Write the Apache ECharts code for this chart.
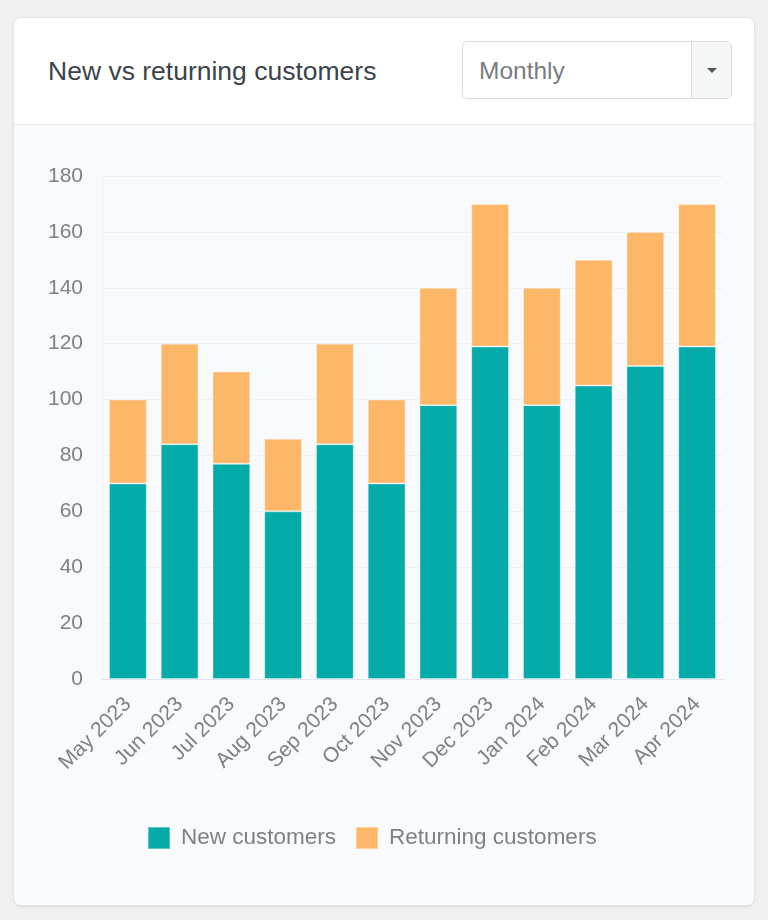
<!DOCTYPE html>
<html>
<head>
<meta charset="utf-8">
<script src="https://cdn.jsdelivr.net/npm/echarts@6/dist/echarts.min.js"></script>
<style>
  html, body { margin: 0; padding: 0; background: #f0f0f1; width: 768px; height: 920px; overflow: hidden; font-family: "Liberation Sans", Arial, Helvetica, sans-serif; }
  #card { position: absolute; left: 13px; top: 17px; width: 740px; height: 887px; background: #f9fafc; border: 1px solid #e2e4e7; border-radius: 8px; box-shadow: 0 1px 2px rgba(0,0,0,0.08); overflow: hidden; }
  #header { position: absolute; left: 0; top: 0; width: 740px; height: 106px; background: #ffffff; border-bottom: 1px solid #e3e5e8; }
  #title { position: absolute; left: 34px; top: 38px; font-size: 26.5px; color: #3c434a; line-height: 30px; white-space: nowrap; }
  #select { position: absolute; left: 448px; top: 23px; width: 268px; height: 56px; border: 1px solid #dcdcde; border-radius: 5px; background: #fff; overflow: hidden; }
  #selText { position: absolute; left: 16px; top: 14px; font-size: 24.5px; line-height: 30px; color: #787c82; }
  #selBtn { position: absolute; right: 0; top: 0; width: 39px; height: 56px; background: #f6f7f7; border-left: 1px solid #dcdcde; }
  #arrow { position: absolute; left: 15px; top: 26px; width: 0; height: 0; border-left: 5px solid transparent; border-right: 5px solid transparent; border-top: 5px solid #50575e; }
  #chart { position: absolute; left: 0; top: 107px; width: 740px; height: 780px; }
</style>
</head>
<body>
<div id="card">
  <div id="header">
    <div id="title">New vs returning customers</div>
    <div id="select"><div id="selText">Monthly</div><div id="selBtn"><div id="arrow"></div></div></div>
  </div>
  <div id="chart"></div>
</div>
<script>
const categories = ["May 2023","Jun 2023","Jul 2023","Aug 2023","Sep 2023","Oct 2023","Nov 2023","Dec 2023","Jan 2024","Feb 2024","Mar 2024","Apr 2024"];
const newCustomers = [70, 84, 77, 60, 84, 70, 98, 119, 98, 105, 112, 119];
const returningCustomers = [30, 36, 33, 26, 36, 30, 42, 51, 42, 45, 48, 51];
const seriesNames = ["New customers", "Returning customers"];
const colors = ["#05aba8", "#fdb768"];

const chart = echarts.init(document.getElementById('chart'), null, { renderer: 'canvas' });
const labelColor = '#7d8089';
const fontFamily = '"Liberation Sans", Arial, Helvetica, sans-serif';
chart.setOption({
  animation: false,
  textStyle: { fontFamily: fontFamily },
  grid: { left: 88, right: 31, top: 51, bottom: 226, containLabel: false },
  legend: {
    data: seriesNames,
    left: 128, top: 696,
    itemWidth: 22, itemHeight: 22, itemGap: 19,
    icon: 'rect',
    textStyle: { color: labelColor, fontSize: 22.5, fontFamily: fontFamily, padding: [0, 0, 0, 6] }
  },
  xAxis: {
    type: 'category',
    data: categories,
    axisLine: { show: true, lineStyle: { color: '#dfe4ec', width: 1 } },
    axisTick: { show: false },
    axisLabel: { rotate: 45, color: labelColor, fontSize: 21, margin: 22, interval: 0 },
    splitLine: { show: false }
  },
  yAxis: {
    type: 'value',
    min: 0, max: 180, interval: 20,
    axisLine: { show: true, lineStyle: { color: '#eef0f4' } },
    axisTick: { show: false },
    axisLabel: { color: labelColor, fontSize: 21, margin: 19 },
    splitLine: { lineStyle: { color: '#eef0f4', width: 1 } }
  },
  series: [
    { name: seriesNames[0], type: 'bar', stack: 'total', data: newCustomers, barWidth: '73%',
      itemStyle: { color: colors[0], borderColor: 'rgba(255,255,255,0.35)', borderWidth: 1 } },
    { name: seriesNames[1], type: 'bar', stack: 'total', data: returningCustomers, barWidth: '73%',
      itemStyle: { color: colors[1], borderColor: 'rgba(255,255,255,0.35)', borderWidth: 1 } }
  ]
});
</script>
</body>
</html>
